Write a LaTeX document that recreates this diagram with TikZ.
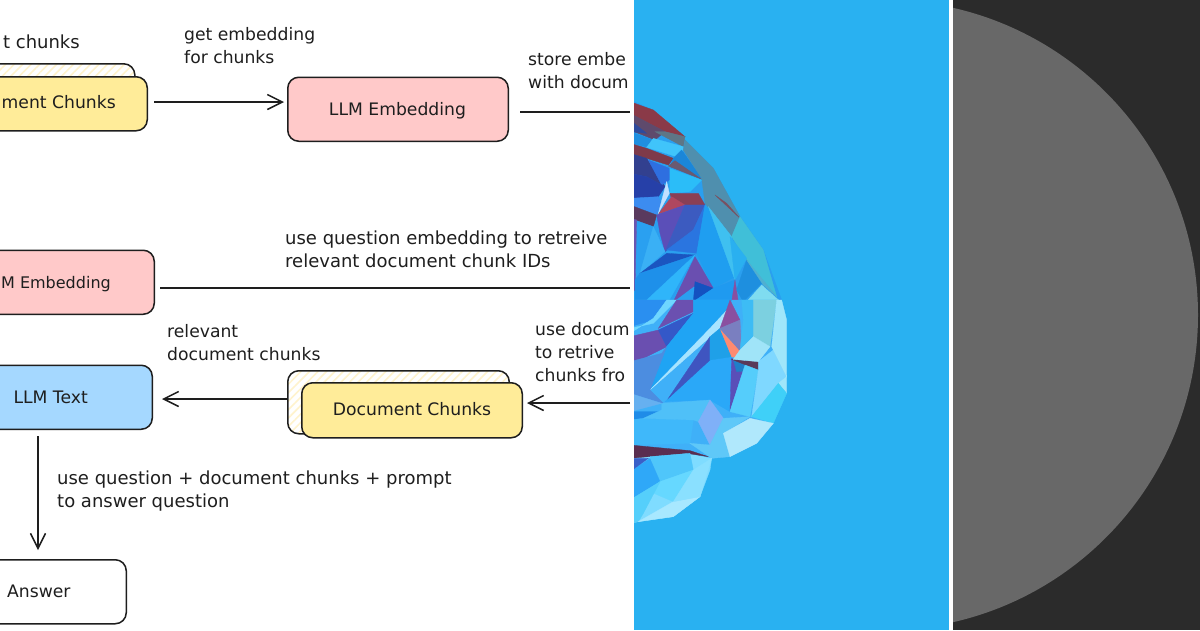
\documentclass[tikz,border=0pt]{standalone}
\usepackage{fontspec}
\setmainfont{DejaVu Sans}
\usetikzlibrary{arrows.meta,patterns.meta}
\definecolor{ink}{HTML}{1E1E1E}
\definecolor{panelblue}{HTML}{29B1F1}
\definecolor{darkbg}{HTML}{2B2B2B}
\definecolor{discgrey}{HTML}{686868}
\definecolor{ylw}{HTML}{FFEC99}
\definecolor{pnk}{HTML}{FFC9C9}
\definecolor{blu}{HTML}{A5D8FF}
\definecolor{hatch}{HTML}{FFF3CD}
\tikzset{
  box/.style={draw=ink,line width=1.5pt,rounded corners=11pt,inner sep=0pt,anchor=north west},
  yellowbox/.style={box,fill=ylw},
  pinkbox/.style={box,fill=pnk},
  bluebox/.style={box,fill=blu},
  whitebox/.style={box,fill=white},
  hatchbox/.style={box,pattern={Lines[angle=45,distance=6pt,line width=1.6pt]},pattern color=hatch},
  lbl/.style={font=\fontsize{18}{23}\selectfont,text=ink,inner sep=0pt,align=left},
  lblsmall/.style={lbl,font=\fontsize{17.2}{23}\selectfont},
  boxlbl/.style={font=\fontsize{17.2}{23}\selectfont,text=ink,inner sep=0pt},
  conn/.style={draw=ink,line width=1.7pt},
  arr/.style={conn,-{Straight Barb[length=15pt,width=15pt,line width=1.5pt]}},
}
\newcommand{\pf}[2]{\definecolor{polyc}{HTML}{#1}\fill[fill=polyc,draw=polyc,line width=.3pt] #2 -- cycle;}
\begin{document}
\begin{tikzpicture}[x=1pt,y=-1pt]
\useasboundingbox (0,0) rectangle (1200,630);
\fill[white] (0,0) rectangle (1200,630);
% ---------- diagram panel
\begin{scope}
\clip (0,0) rectangle (630,630);
\node[hatchbox,minimum width=174pt,minimum height=50pt] (backA) at (-40,63) {};
\node[yellowbox,minimum width=186.5pt,minimum height=54pt] (chunksA) at (-40,76) {};
\node[pinkbox,minimum width=220.5pt,minimum height=64pt] (embedA) at (287,76.5) {};
\node[pinkbox,minimum width=193.5pt,minimum height=64pt] (embedB) at (-40,249.5) {};
\node[bluebox,minimum width=191.5pt,minimum height=64pt] (textbox) at (-40,364.5) {};
\node[hatchbox,minimum width=221.5pt,minimum height=63pt] (backB) at (287,370) {};
\node[yellowbox,minimum width=220.5pt,minimum height=55pt] (chunksB) at (301,382) {};
\node[whitebox,minimum width=165.5pt,minimum height=64pt] (answer) at (-40,559) {};
\coordinate (edgeA) at (630,112);
\coordinate (edgeB) at (630,288);
\coordinate (edgeC) at (630,403);
\coordinate (lineAB) at (0,102);
\coordinate (lineTB) at (0,399);
\coordinate (downX) at (38,0);
% box texts
\node[boxlbl,anchor=base east] at (116,108) {ment Chunks};
\node[boxlbl,anchor=base] at (397.5,115) {LLM Embedding};
\node[boxlbl,font=\fontsize{16}{23}\selectfont,anchor=base east] at (111,288) {M Embedding};
\node[boxlbl,anchor=base east] at (88,403) {LLM Text};
\node[boxlbl,anchor=base] at (412,415) {Document Chunks};
\node[boxlbl,anchor=base west] at (7,597) {Answer};
% connectors
\draw[arr] ([xshift=6pt]chunksA.east |- lineAB) -- ([xshift=-3pt]embedA.west |- lineAB);
\draw[conn] ([xshift=11pt]embedA.east |- edgeA) -- (edgeA);
\draw[conn] ([xshift=5pt]embedB.east |- edgeB) -- (edgeB);
\draw[arr] (backB.west |- lineTB) -- ([xshift=9pt]textbox.east |- lineTB);
\draw[arr] (edgeC) -- ([xshift=4pt]chunksB.east |- edgeC);
\draw[arr] ([yshift=-6pt]downX |- textbox.south) -- ([yshift=9pt]downX |- answer.north);
% labels
\node[lbl,anchor=base east] at (80,48) {t chunks};
\node[lblsmall,anchor=west] at (184,46) {get embedding\\for chunks};
\node[lblsmall,anchor=west] at (528,71) {store embe\\with docum};
\node[lbl,anchor=west] at (285,249) {use question embedding to retreive\\relevant document chunk IDs};
\node[lblsmall,anchor=west] at (167,343) {relevant\\document chunks};
\node[lblsmall,anchor=west] at (535,352) {use docum\\to retrive\\chunks fro};
\node[lbl,anchor=west] at (57,491) {use question + document chunks + prompt\\to answer question};
\end{scope}
% ---------- blue panel
\fill[panelblue] (634,0) rectangle (949,630);
\begin{scope}
\clip (634,0) rectangle (949,630);
\begin{scope}[shift={(630,90)},x=.3333pt,y=-.3333pt]
\pf{2A9FEF}{(0,30) -- (70,60) -- (165,150) -- (250,235) -- (330,380) -- (400,480) -- (455,630) -- (0,640)}
\pf{8A3A48}{(0,35) -- (70,60) -- (165,140) -- (105,125) -- (0,70)}
\pf{5F4A6C}{(0,70) -- (105,125) -- (75,150) -- (0,120)}
\pf{2E4A9C}{(0,90) -- (50,130) -- (0,125)}
\pf{5E7686}{(75,125) -- (105,125) -- (165,140) -- (160,170)}
\pf{1F8FE0}{(0,125) -- (70,150) -- (48,170) -- (0,160)}
\pf{40C4FA}{(70,145) -- (160,170) -- (155,205) -- (50,172)}
\pf{7E3A4A}{(0,160) -- (50,175) -- (130,205) -- (115,225) -- (50,205) -- (0,190)}
\pf{1B86D8}{(130,205) -- (155,180) -- (215,265) -- (120,230)}
\pf{6A5A70}{(115,228) -- (135,212) -- (215,268)}
\pf{4F8FAE}{(165,150) -- (215,200) -- (250,235) -- (330,380) -- (305,440) -- (225,340) -- (215,265) -- (160,180)}
\pf{7A5060}{(255,315) -- (290,340) -- (330,385)}
\pf{2BBDF8}{(118,235) -- (215,270) -- (180,305) -- (120,310)}
\pf{32408F}{(0,190) -- (50,205) -- (105,290) -- (50,260) -- (0,250)}
\pf{2E6FE0}{(55,210) -- (118,235) -- (118,270) -- (95,285)}
\pf{2640A8}{(0,250) -- (50,260) -- (105,290) -- (85,320) -- (0,325)}
\pf{3C8CF0}{(0,325) -- (85,320) -- (95,345) -- (80,372) -- (0,345)}
\pf{5A3A5E}{(0,345) -- (80,375) -- (70,410) -- (0,385)}
\pf{8A3F55}{(120,310) -- (205,310) -- (225,345) -- (165,345) -- (125,330)}
\pf{B0475F}{(85,372) -- (125,320) -- (165,345)}
\pf{5B4FB8}{(80,375) -- (165,345) -- (105,485) -- (90,430)}
\pf{3C5BC0}{(165,345) -- (225,345) -- (190,420) -- (105,485)}
\pf{C0E0FF}{(110,275) -- (118,310) -- (85,370)}
\pf{2AA0F0}{(0,385) -- (70,410) -- (30,550) -- (0,570)}
\pf{6A55B0}{(0,385) -- (20,390) -- (15,600) -- (0,610)}
\pf{3AB0F5}{(70,410) -- (105,485) -- (30,550)}
\pf{2A75E0}{(225,345) -- (200,490) -- (110,480) -- (190,420)}
\pf{1F9EF0}{(225,345) -- (300,440) -- (315,560) -- (250,595) -- (200,490)}
\pf{3FC0F0}{(235,350) -- (305,440) -- (315,570)}
\pf{40BFD8}{(305,440) -- (330,380) -- (400,480) -- (440,620) -- (350,510)}
\pf{2AB0F0}{(300,440) -- (350,505) -- (315,570)}
\pf{1B55C0}{(30,550) -- (110,490) -- (195,495)}
\pf{1E90EA}{(15,570) -- (30,550) -- (195,495) -- (50,635) -- (15,635)}
\pf{2FB5FA}{(195,495) -- (115,635) -- (45,635)}
\pf{6A4FB0}{(195,500) -- (250,595) -- (190,590) -- (130,635)}
\pf{1452C0}{(195,575) -- (250,595) -- (190,635)}
\pf{1F9AF0}{(250,595) -- (315,570) -- (305,635) -- (190,635)}
\pf{8A4FA0}{(315,570) -- (305,635) -- (325,635)}
\pf{1E8FDF}{(350,510) -- (395,580) -- (340,635) -- (320,600)}
\pf{50B0D0}{(350,510) -- (440,620) -- (400,585)}
\pf{7FDCF0}{(395,585) -- (440,625) -- (452,635) -- (350,635)}
\end{scope}
\begin{scope}[shift={(630,300)},x=.3333pt,y=-.3333pt]
\pf{3FB0F8}{(0,0) -- (455,0) -- (470,60) -- (470,280) -- (430,370) -- (380,430) -- (300,470) -- (245,475) -- (180,452) -- (0,435)}
\pf{2A8FF0}{(0,0) -- (110,0) -- (70,60) -- (0,80)}
\pf{6FD6FF}{(0,85) -- (70,70) -- (140,0) -- (110,0) -- (70,55) -- (0,100)}
\pf{6B50B0}{(140,0) -- (190,0) -- (190,35) -- (85,85)}
\pf{6A4FB0}{(0,110) -- (85,90) -- (110,140) -- (20,185) -- (0,185)}
\pf{3458C8}{(85,90) -- (190,40) -- (110,140)}
\pf{1FA4F4}{(60,270) -- (110,140) -- (190,40) -- (190,0) -- (305,0) -- (270,85)}
\pf{A8E4FF}{(60,270) -- (270,85) -- (305,15) -- (240,85)}
\pf{2AA8F8}{(105,305) -- (240,180) -- (305,170) -- (300,335) -- (240,300)}
\pf{3F55C0}{(115,295) -- (240,110) -- (240,180)}
\pf{1FA0E8}{(270,85) -- (240,110) -- (240,180) -- (305,170)}
\pf{FF8A70}{(272,90) -- (328,150) -- (325,175) -- (305,170)}
\pf{8A4FA0}{(300,0) -- (330,60) -- (270,85)}
\pf{7A7FC0}{(270,85) -- (330,60) -- (335,150) -- (328,150)}
\pf{5A4FB8}{(305,175) -- (345,195) -- (300,330)}
\pf{1F7FC8}{(310,180) -- (385,210) -- (320,215)}
\pf{5A3A58}{(305,178) -- (385,185) -- (385,210)}
\pf{4C8DE0}{(0,185) -- (95,160) -- (110,140) -- (60,270) -- (100,310) -- (0,280)}
\pf{66B0F0}{(0,280) -- (95,310) -- (0,335)}
\pf{1F8CE8}{(0,335) -- (90,335) -- (40,355) -- (0,360)}
\pf{3FB8FA}{(0,360) -- (40,355) -- (190,360) -- (180,430) -- (0,435)}
\pf{4FC0F8}{(95,310) -- (240,300) -- (205,365) -- (190,360) -- (40,355) -- (95,330)}
\pf{7FB0F8}{(240,300) -- (280,355) -- (240,435) -- (205,365)}
\pf{55CDFB}{(345,195) -- (385,210) -- (360,350) -- (300,335)}
\pf{7FD8FF}{(385,185) -- (430,150) -- (470,230) -- (445,250) -- (365,350) -- (385,210)}
\pf{3DBCF5}{(335,0) -- (370,0) -- (370,110) -- (330,150) -- (340,60)}
\pf{7CD0E0}{(370,0) -- (440,0) -- (420,140) -- (370,110)}
\pf{A0E4F8}{(330,150) -- (370,110) -- (420,140) -- (385,185) -- (310,178)}
\pf{9FE6FA}{(440,0) -- (455,0) -- (470,60) -- (470,280) -- (445,250) -- (470,230) -- (425,140)}
\pf{3FD0F8}{(365,350) -- (445,250) -- (470,280) -- (430,370)}
\pf{5FC8F8}{(240,435) -- (280,355) -- (360,350) -- (280,400) -- (300,470) -- (245,475) -- (180,430)}
\pf{B0E8FC}{(360,355) -- (430,370) -- (380,430) -- (300,470) -- (280,400)}
\pf{7FDCFF}{(0,475) -- (170,460) -- (245,475) -- (240,510) -- (210,590) -- (130,650) -- (25,665) -- (0,670)}
\pf{5A2E50}{(0,435) -- (180,452) -- (235,470) -- (170,460) -- (0,475)}
\pf{4FC6FA}{(60,470) -- (180,460) -- (190,510) -- (90,545)}
\pf{2FA8F8}{(0,515) -- (60,475) -- (90,545) -- (0,600)}
\pf{3A5FC8}{(0,475) -- (55,475) -- (0,515)}
\pf{66D8FF}{(90,545) -- (190,510) -- (210,540) -- (130,605) -- (60,575)}
\pf{55CFFB}{(0,600) -- (90,545) -- (40,640) -- (25,665) -- (0,670)}
\pf{A8E8FF}{(130,605) -- (210,590) -- (130,650) -- (25,665)}
\pf{8AE0FF}{(190,510) -- (245,475) -- (210,590) -- (130,605)}
\end{scope}
\end{scope}
% ---------- dark panel
\fill[darkbg] (953,0) rectangle (1200,630);
\begin{scope}
\clip (953,0) rectangle (1200,630);
\fill[discgrey] (883,315) circle[radius=315];
\end{scope}
\end{tikzpicture}
\end{document}
